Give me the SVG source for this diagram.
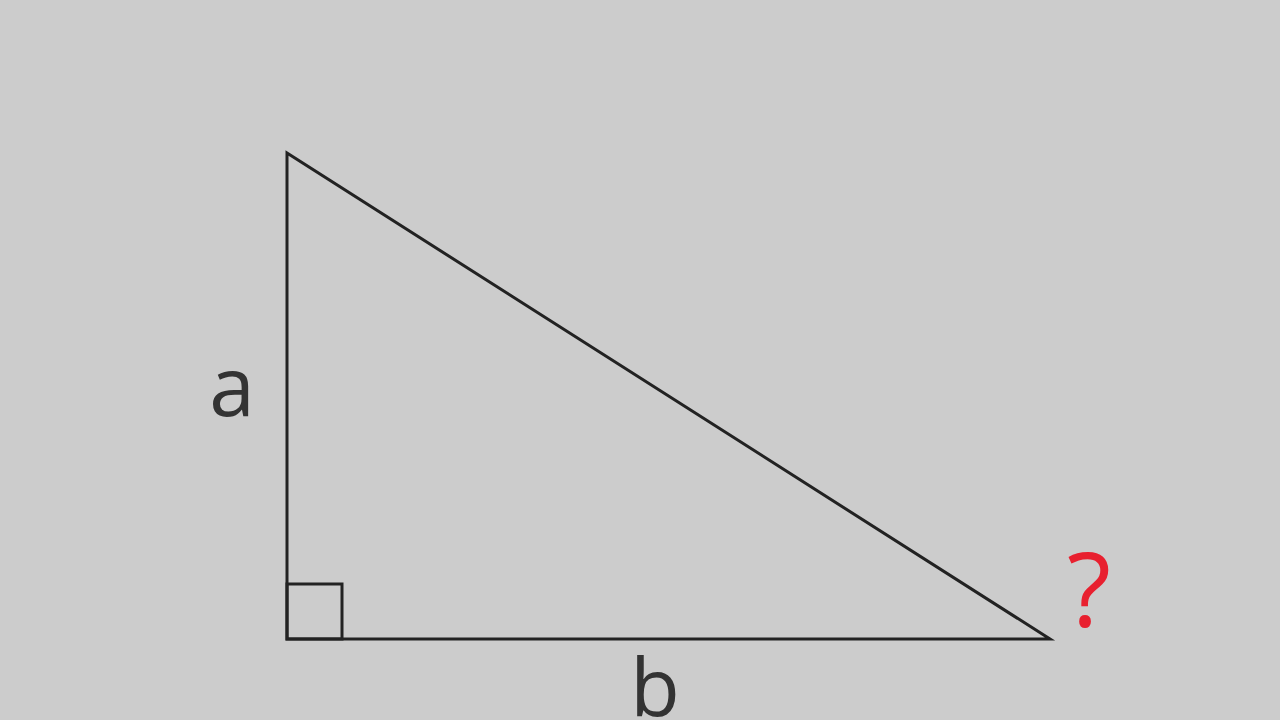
<svg xmlns="http://www.w3.org/2000/svg" width="1280" height="720" viewBox="0 0 1280 720">
<style>
.ln{fill:none;stroke:#222222;stroke-width:3;stroke-linejoin:miter}
.lbl{font-family:"Open Sans","Noto Sans",sans-serif;fill:#333333;text-anchor:middle}
</style>
<rect width="1280" height="720" fill="#cccccc"/>
<g id="triangle">
<polygon class="ln" points="287,153 287,639 1050,639"/>
<rect id="right-angle" class="ln" x="287" y="584" width="55" height="55"/>
</g>
<g id="labels">
<text id="label-a" class="lbl" x="232" y="416" font-size="82">a</text>
<text id="label-b" class="lbl" x="655" y="716" font-size="81">b</text>
<text id="label-q" x="1089" y="627" font-size="102" text-anchor="middle" font-family="'Open Sans','Noto Sans',sans-serif" fill="#e8202f">?</text>
</g>
</svg>
